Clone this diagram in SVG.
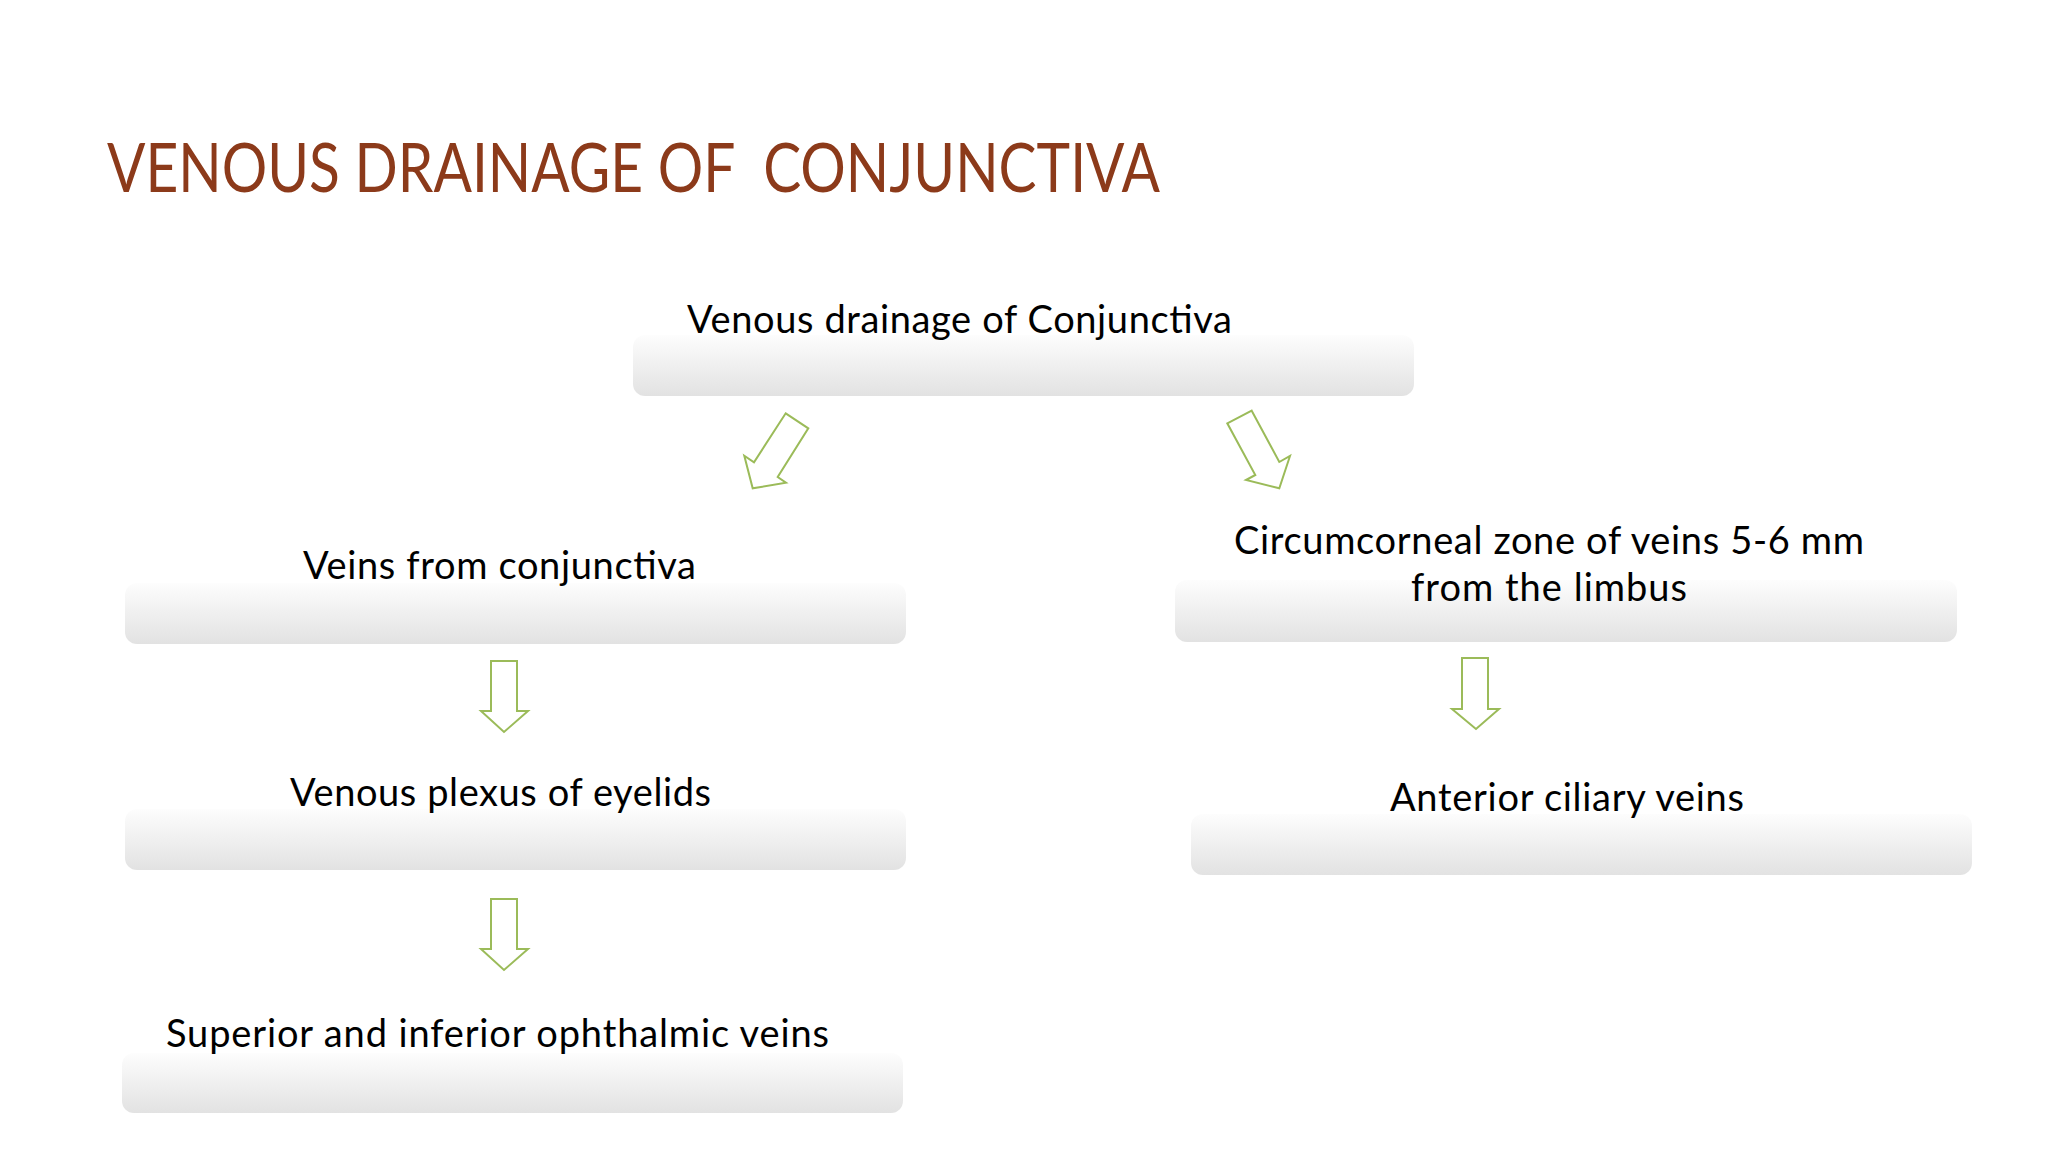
<svg xmlns="http://www.w3.org/2000/svg" width="2048" height="1152" viewBox="0 0 2048 1152">
<defs>
<linearGradient id="boxg" x1="0" y1="0" x2="0" y2="1">
<stop offset="0" stop-color="#fdfdfd"/>
<stop offset="1" stop-color="#e2e2e2"/>
</linearGradient>
<style>
.box{fill:url(#boxg);}
.lbl{font-family:Lato,"Open Sans","Liberation Sans",sans-serif;font-size:38px;fill:#000;}
.arr{fill:#fff;stroke:#9bbb59;stroke-width:2;stroke-linejoin:miter;}
.title{font-family:Lato,"Open Sans","Liberation Sans",sans-serif;font-size:67px;fill:#8c3a1a;white-space:pre;}
</style>
</defs>
<rect width="2048" height="1152" fill="#fff"/>
<text class="title" x="107" y="192" textLength="1053" lengthAdjust="spacingAndGlyphs" xml:space="preserve">VENOUS DRAINAGE OF  CONJUNCTIVA</text>
<g id="node-root">
<rect class="box" x="633" y="335" width="781" height="61" rx="12"/>
<text class="lbl" x="687" y="333" textLength="545">Venous drainage of Conjunctiva</text>
</g>
<g id="node-veins-conj">
<rect class="box" x="125" y="583" width="781" height="61" rx="12"/>
<text class="lbl" x="303" y="579" textLength="393">Veins from conjunctiva</text>
</g>
<g id="node-plexus">
<rect class="box" x="125" y="809" width="781" height="61" rx="12"/>
<text class="lbl" x="290" y="806" textLength="421">Venous plexus of eyelids</text>
</g>
<g id="node-ophthalmic">
<rect class="box" x="122" y="1053" width="781" height="60" rx="12"/>
<text class="lbl" x="166" y="1047" textLength="663">Superior and inferior ophthalmic veins</text>
</g>
<g id="node-circumcorneal">
<rect class="box" x="1175" y="580" width="782" height="62" rx="12"/>
<text class="lbl" x="1234" y="554" textLength="630">Circumcorneal zone of veins 5-6 mm</text>
<text class="lbl" x="1411" y="601" textLength="276">from the limbus</text>
</g>
<g id="node-anterior-ciliary">
<rect class="box" x="1191" y="814" width="781" height="61" rx="12"/>
<text class="lbl" x="1390" y="811" textLength="354">Anterior ciliary veins</text>
</g>
<g id="connectors">
<polygon class="arr" points="785.7,413.3 808.3,428.3 777.7,477 786,482.7 752.7,488.3 744.3,455.7 754,462.3"/>
<polygon class="arr" points="1251.7,410.7 1279.3,462 1290,456 1279.3,488.3 1246,480 1255.3,475 1227.3,423.3"/>
<polygon class="arr" points="491,661 517,661 517,711 528,711 504,732 481,711 491,711"/>
<polygon class="arr" points="491,899 517,899 517,949 528,949 504,970 481,949 491,949"/>
<polygon class="arr" points="1462,658 1488,658 1488,709 1499,709 1476,729 1452,709 1462,709"/>
</g>
</svg>
